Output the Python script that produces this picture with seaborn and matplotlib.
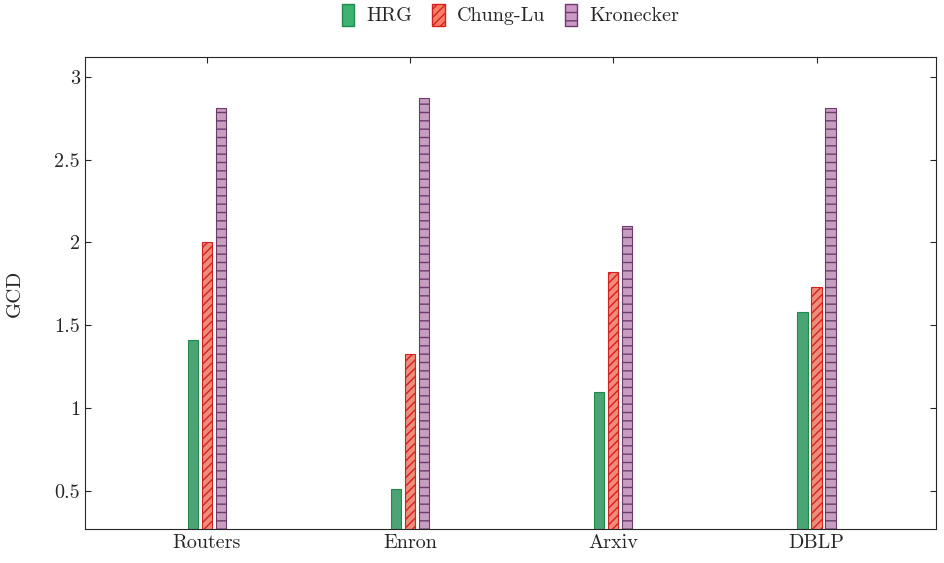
import pandas as pd
import matplotlib
matplotlib.use("Agg")
import matplotlib.pyplot as plt
import seaborn as sns
from matplotlib.patches import Patch

datasets = ["Routers", "Enron", "Arxiv", "DBLP"]
models = ["HRG", "Chung-Lu", "Kronecker"]
hrg = [1.41, 0.51, 1.10, 1.58]
chung_lu = [2.00, 1.33, 1.82, 1.73]
kronecker = [2.81, 2.87, 2.10, 2.81]

rows = []
for m, vals in zip(models, [hrg, chung_lu, kronecker]):
    for d, v in zip(datasets, vals):
        rows.append({"dataset": d, "model": m, "GCD": v})
df = pd.DataFrame(rows)

sns.set_style("ticks")
plt.rcParams["font.family"] = ["cmr10", "DejaVu Serif"]
plt.rcParams["axes.formatter.use_mathtext"] = True
plt.rcParams["hatch.linewidth"] = 1.0

face = {"HRG": "#3cb371", "Chung-Lu": "#ff7f66", "Kronecker": "#cc99c4"}
edge = {"HRG": "#1f8a4c", "Chung-Lu": "#d62020", "Kronecker": "#6e3a6e"}
hatch = {"HRG": "", "Chung-Lu": "////", "Kronecker": "--"}

fig, ax = plt.subplots(figsize=(9.44, 5.63), dpi=100)
sns.barplot(data=df, x="dataset", y="GCD", hue="model", order=datasets,
            hue_order=models, width=0.207, palette=face, ax=ax, legend=False)

for cont, m in zip(ax.containers, models):
    for p in cont.patches:
        cx = p.get_x() + p.get_width() / 2
        p.set_width(0.05)
        p.set_x(cx - 0.025)
        p.set_edgecolor(edge[m])
        p.set_linewidth(0.8)
        p.set_hatch(hatch[m])

ax.set_xlim(-0.6, 3.59)
ax.set_ylim(0.27, 3.12)
ax.set_yticks([0.5, 1, 1.5, 2, 2.5, 3])
ax.set_yticklabels(["0.5", "1", "1.5", "2", "2.5", "3"])
ax.set_xlabel("")
ax.set_ylabel("GCD", fontsize=15, labelpad=22)
ax.tick_params(labelsize=14.5, direction="in", top=True, right=True, length=4)
for s in ax.spines.values():
    s.set_linewidth(0.8)
    s.set_visible(True)

handles = [Patch(facecolor=face[m], edgecolor=edge[m], hatch=hatch[m]) for m in models]
ax.legend(handles, models, loc="lower center", bbox_to_anchor=(0.5, 1.045), ncol=3,
          frameon=False, fontsize=14.5, handlelength=0.6, handleheight=1.3,
          handletextpad=0.6, columnspacing=1.0, borderpad=0)

fig.subplots_adjust(left=0.09, right=0.992, top=0.899, bottom=0.06)
fig.savefig("out.png", dpi=100)
